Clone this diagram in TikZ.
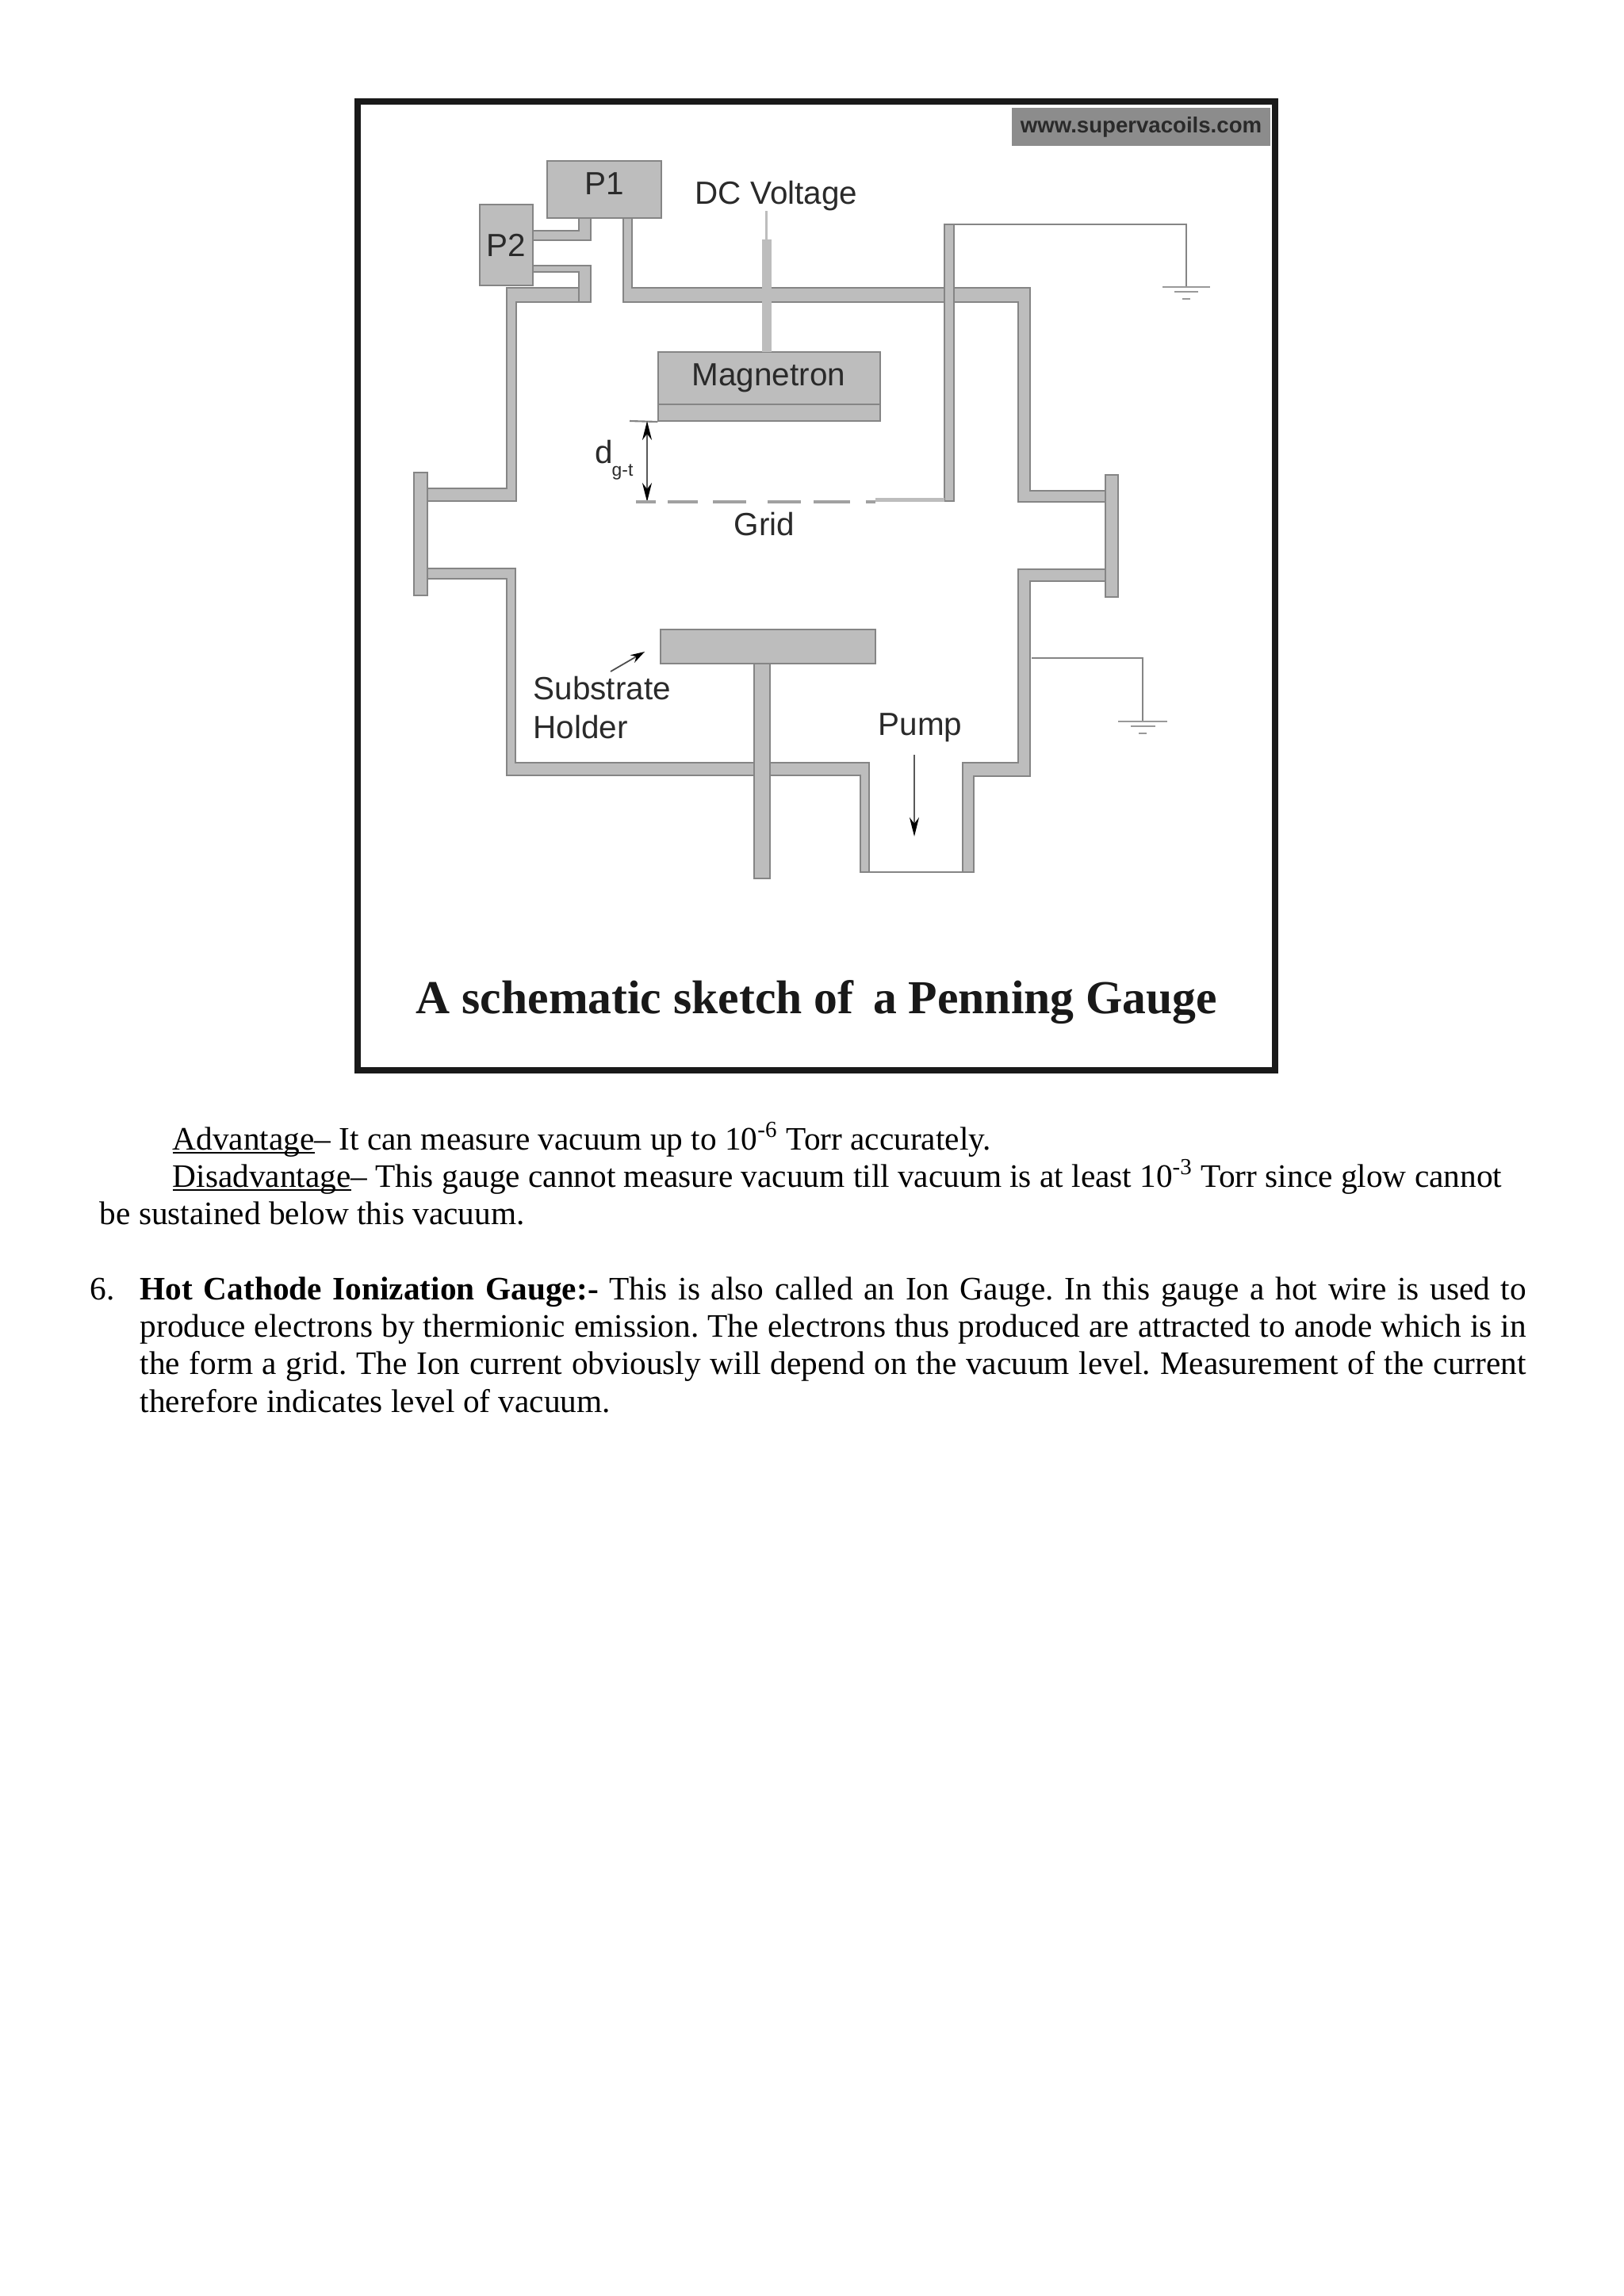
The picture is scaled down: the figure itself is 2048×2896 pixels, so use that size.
\documentclass[tikz,border=0pt]{standalone}
\usepackage{fontspec}
\usepackage{xcolor}
\usepackage{tikz}
\usetikzlibrary{arrows.meta,positioning,calc}
\setmainfont{Liberation Serif}
\setsansfont{Liberation Sans}
\definecolor{wallfill}{HTML}{BDBDBD}
\definecolor{walledge}{HTML}{858585}
\definecolor{inktext}{HTML}{2A2A2A}
\newcommand{\earth}[3]{%
  \draw[gnd] ($(#1)+(-#2,0)$) -- ($(#1)+(#2,0)$);
  \draw[gnd] ($(#1)+(-#2*0.5,6)$) -- ($(#1)+(#2*0.5,6)$);
  \draw[gnd] ($(#1)+(-#3,15)$) -- ($(#1)+(#3,15)$);
}
\newcommand{\uln}[1]{\setbox0\hbox{#1}\rlap{\rule[-1.3pt]{\wd0}{0.55pt}}\box0}

\begin{document}
\begin{tikzpicture}[
  x=0.01cm, y=-0.01cm,
  wall/.style={draw=walledge, fill=wallfill, line width=0.55pt, line join=miter},
  box/.style={wall, inner sep=0pt, font=\sffamily\fontsize{11.5}{13}\selectfont, text=inktext},
  lab/.style={inner sep=0pt, font=\sffamily\fontsize{11.5}{13}\selectfont, text=inktext, anchor=base west},
  wire/.style={draw=walledge, line width=0.6pt},
  gnd/.style={draw=gray!80, line width=0.6pt},
  arr/.style={-{Stealth[length=2.4mm,width=1.2mm,black]}, draw=gray!70!black, line width=0.5pt},
  gridbar/.style={draw=wallfill!85!black, line width=1.1pt},
  para/.style={inner sep=0pt, anchor=base west, font=\frenchspacing\fontsize{11.75}{13.5}\selectfont, align=justify, text width=497.1pt},
  line/.style={inner sep=0pt, anchor=base west, font=\frenchspacing\fontsize{11.75}{13.5}\selectfont},
]
\useasboundingbox[fill=white] (0,0) rectangle (2048,2896);
\draw[draw=black!90, line width=2.3pt] (451,128) rectangle (1608,1350);
\node[fill=black!45, minimum width=3.26cm, minimum height=0.48cm, inner sep=0pt] (site) at (1439,160)
  {\sffamily\bfseries\fontsize{7.85}{10}\selectfont\color{inktext} www.supervacoils.com};

\coordinate (gtop) at (1197,283);
\coordinate (gnda) at (1496,362);
\coordinate (hook) at (1301,830);
\coordinate (gndb) at (1441,910);

\draw[wall] (745,363) -- (639,363) -- (639,616) -- (539,616) -- (539,632) -- (651,632) -- (651,381) -- (745,381) -- cycle;
\draw[wall] (786,275) -- (786,381) -- (1284,381) -- (1284,633) -- (1395,633) -- (1395,619) -- (1299,619) -- (1299,363) -- (797,363) -- (797,275) -- cycle;
\draw[wall] (539,717) -- (650,717) -- (650,962) -- (1096,962) -- (1096,1100) -- (1085,1100) -- (1085,978) -- (639,978) -- (639,730) -- (539,730) -- cycle;
\draw[wall] (1395,718) -- (1284,718) -- (1284,962) -- (1214,962) -- (1214,1100) -- (1228,1100) -- (1228,979) -- (1299,979) -- (1299,733) -- (1395,733) -- cycle;
\draw[wire, line width=0.8pt] (1085,1100) -- (1228,1100);
\draw[wall] (672,291) -- (730,291) -- (730,275) -- (745,275) -- (745,303) -- (672,303) -- cycle;
\draw[wall] (672,335) -- (745,335) -- (745,381) -- (730,381) -- (730,343) -- (672,343) -- cycle;
\draw[wall] (522,596) rectangle (539,751);
\draw[wall] (1394,599) rectangle (1410,753);

\node[box, minimum width=1.43cm, minimum height=0.72cm] (pone) at (762,239) {\raisebox{4pt}{P1}};
\node[box, minimum width=0.67cm, minimum height=1.025cm] (ptwo) at (638.5,309) {P2};
\node[box, minimum width=2.79cm, minimum height=0.87cm] (mag) at (970,487.5) {};
\draw[wire] (mag.west |- 0,510) -- (mag.east |- 0,510);
\draw[wire] (794,531) -- (mag.south west);
\node[lab] (magtext) at (872,486) {Magnetron};

\draw[wall, draw=none] (961,302) rectangle (973,444);
\draw[wall, draw=none] (964.5,266) rectangle (968,302);
\node[lab] (dc) at (876,257) {DC Voltage};

\draw[wall] (1191,283) rectangle (1203,632);
\draw[wall, draw=none] (1104,628) rectangle (1191,633);
\draw[wire] (gtop) -- (gtop -| gnda) -- (gnda);
\earth{gnda}{30}{5}
\draw[wire] (hook) -- (hook -| gndb) -- (gndb);
\earth{gndb}{31}{5}

\coordinate (dtop) at (816,531);
\coordinate (dbot) at (816,633);
\draw[arr, {Stealth[length=2.4mm,width=1.2mm,black]}-{Stealth[length=2.4mm,width=1.2mm,black]}] (dtop) -- (dbot);
\foreach \xa/\xb in {802/826.5,842/880,899/941,968/1010,1026/1072,1092/1104}
  \draw[gridbar] (\xa,633) -- (\xb,633);
\node[lab] (dlab) at (750,584) {d};
\node[lab, font=\sffamily\fontsize{6.5}{8}\selectfont] (dsub) at (771,600) {g-t};
\node[lab] (gridlab) at (925,675) {Grid};

\node[box, minimum width=2.7cm, minimum height=0.43cm] (holder) at (968.5,815.5) {};
\draw[wall] (951,837) rectangle (971,1108);
\node[lab, align=left, anchor=north west] (sub) at (672,852) {Substrate\\[1.1pt]Holder};
\coordinate (subtail) at (770,847);
\coordinate (subtip) at (813,822);
\draw[arr, draw=black!70, -{Stealth[length=1.8mm,width=1.1mm,black]}] (subtail) -- (subtip);
\node[lab] (pump) at (1107,927) {Pump};
\coordinate (ptail) at (1153,952);
\coordinate (ptip) at (1153,1055);
\draw[arr] (ptail) -- (ptip);

\node[inner sep=0pt, anchor=base west, font=\bfseries\fontsize{16.96}{19}\selectfont, text=black!90] (title) at (524,1278)
  {A schematic sketch of\, a Penning Gauge};

\node[line] (adv) at (217,1450) {\uln{Advantage}-- It can measure vacuum up to 10\textsuperscript{-6} Torr accurately.};
\node[line] (dis) at (217,1497) {\uln{Disadvantage}-- This gauge cannot measure vacuum till vacuum is at least 10\textsuperscript{-3} Torr since glow cannot};
\node[line] (sus) at (125,1544) {be sustained below this vacuum.};
\node[line] (six) at (113,1639) {6.};
\node[para] (hot) at (176,1639) {\textbf{Hot Cathode Ionization Gauge:-} This is also called an Ion Gauge. In this gauge a hot wire is used to produce electrons by thermionic emission. The electrons thus produced are attracted to anode which is in the form a grid. The Ion current obviously will depend on the vacuum level. Measurement of the current therefore indicates level of vacuum.};
\end{tikzpicture}
\end{document}
